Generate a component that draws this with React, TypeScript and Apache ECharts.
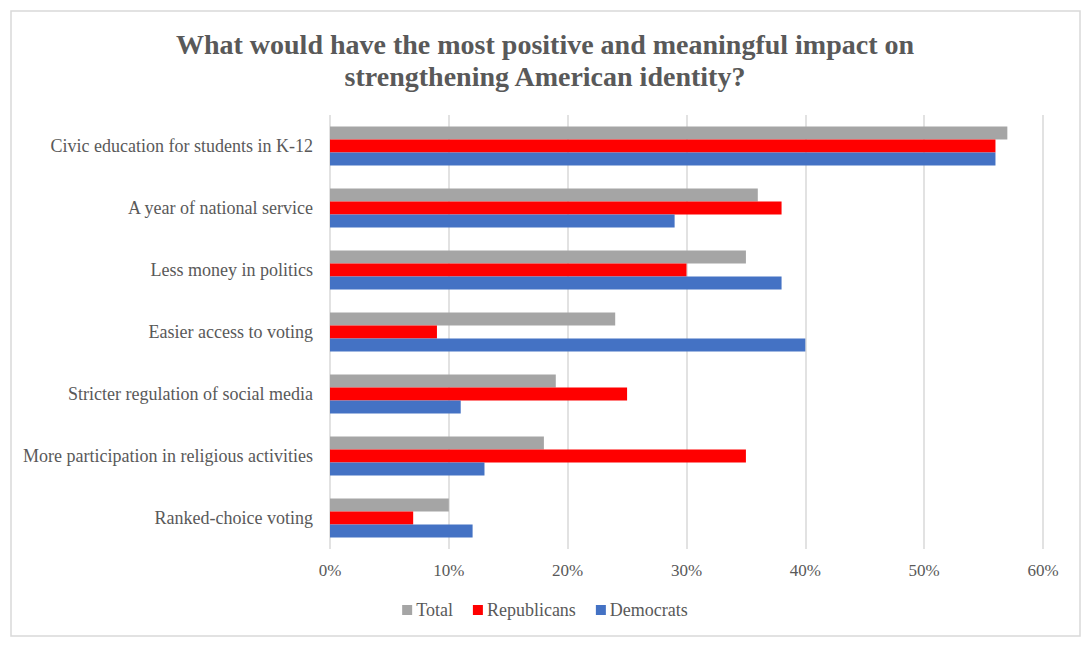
import React, { useEffect, useRef } from "react";
import * as echarts from "echarts";

const categories = [
  "Civic education for students in K-12",
  "A year of national service",
  "Less money in politics",
  "Easier access to voting",
  "Stricter regulation of social media",
  "More participation in religious activities",
  "Ranked-choice voting",
];
const totalValues = [57, 36, 35, 24, 19, 18, 10];
const republicanValues = [56, 38, 30, 9, 25, 35, 7];
const democratValues = [56, 29, 38, 40, 11, 13, 12];
const seriesNames = ["Total", "Republicans", "Democrats"];
const colors = ["#A5A5A5", "#FF0000", "#4472C4"];
const titleText = "What would have the most positive and meaningful impact on\nstrengthening American identity?";

const FONT = "Liberation Serif";

export default function App() {
  const ref = useRef<HTMLDivElement>(null);
  useEffect(() => {
    document.body.style.margin = "0";
    if (!ref.current) return;
    const chart = echarts.init(ref.current, undefined, { renderer: "svg" });
    const data = [totalValues, republicanValues, democratValues];
    chart.setOption({
      animation: false,
      backgroundColor: "#FFFFFF",
      textStyle: { fontFamily: FONT },
      title: {
        text: titleText,
        left: "center",
        top: 23,
        textStyle: {
          fontFamily: FONT,
          fontSize: 28,
          fontWeight: "bold",
          color: "#595959",
          lineHeight: 32,
        },
      },
      legend: {
        data: seriesNames,
        bottom: 23,
        left: "center",
        itemWidth: 10,
        itemHeight: 10,
        itemGap: 20,
        icon: "rect",
        textStyle: { fontFamily: FONT, fontSize: 18, color: "#595959", padding: [0, 0, 0, -1] },
      },
      grid: { left: 330, right: 47, top: 115, bottom: 98, containLabel: false },
      xAxis: {
        type: "value",
        min: 0,
        max: 60,
        interval: 10,
        axisLine: { show: false },
        axisTick: { show: false },
        splitLine: { show: true, lineStyle: { color: "#D9D9D9", width: 1.5 } },
        axisLabel: {
          formatter: "{value}%",
          fontFamily: FONT,
          fontSize: 17,
          color: "#595959",
          margin: 13,
        },
      },
      yAxis: {
        type: "category",
        data: categories,
        inverse: true,
        axisLine: { show: false },
        axisTick: { show: false },
        axisLabel: { fontFamily: FONT, fontSize: 18, color: "#595959", margin: 17 },
      },
      series: seriesNames.map((name, i) => ({
        name,
        type: "bar",
        data: data[i],
        barWidth: 13,
        barGap: "0%",
        itemStyle: { color: colors[i] },
      })),
      graphic: [
        {
          type: "rect",
          shape: { x: 11, y: 11, width: 1069, height: 625 },
          style: { fill: "none", stroke: "#D9D9D9", lineWidth: 1.5 },
          silent: true,
        },
      ],
    });
    return () => chart.dispose();
  }, []);
  return (
    <div
      ref={ref}
      style={{ position: "absolute", left: 0, top: 0, width: 1090, height: 647 }}
    />
  );
}
